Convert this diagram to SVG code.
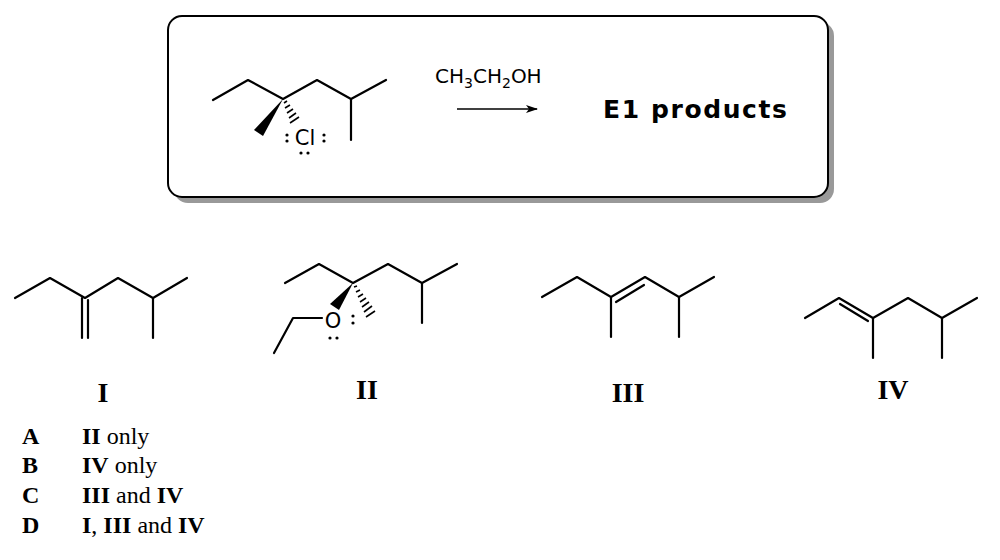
<svg xmlns="http://www.w3.org/2000/svg" width="1000" height="560" viewBox="0 0 1000 560">
<style>
.b{fill:none;stroke:#000;stroke-width:2.2;stroke-linecap:round;stroke-linejoin:round}
.s{font-family:"DejaVu Sans",Verdana,sans-serif;fill:#000}
.r{font-family:"Liberation Serif",Cambria,serif;font-size:24px;fill:#000}
.n{font-family:"Liberation Serif",Cambria,serif;font-size:28px;font-weight:bold;fill:#000}
.dot{fill:#000}
</style>
<defs>
<marker id="ah" markerWidth="12" markerHeight="8" refX="11" refY="4" orient="auto" markerUnits="userSpaceOnUse"><path d="M0,0 L12,4 L0,8 L3,4 Z" fill="#000"/></marker>
</defs>
<rect width="1000" height="560" fill="#fff"/>
<g id="box">
<rect x="174" y="22" width="660" height="181" rx="14" fill="#999"/>
<rect x="168" y="16" width="660" height="181" rx="14" fill="#fff" stroke="#000" stroke-width="2"/>
</g>
<g id="reactant">
<polyline class="b" points="213,100 248,80 283,99 317,80 351,99 386,80"/>
<line class="b" x1="351" y1="99" x2="351" y2="140"/>
<polygon points="283,99 263,136 254,130" fill="#000"/>
<g stroke="#000" stroke-width="1.6">
<line x1="284" y1="103" x2="287" y2="101"/><line x1="285" y1="108" x2="290" y2="105"/><line x1="287" y1="113" x2="293" y2="109"/><line x1="289" y1="118" x2="296" y2="113"/><line x1="290" y1="123" x2="299" y2="117"/>
</g>
<text class="s" x="305" y="145" font-size="21" text-anchor="middle">Cl</text>
<circle class="dot" cx="287" cy="135" r="1.6"/><circle class="dot" cx="287" cy="141" r="1.6"/>
<circle class="dot" cx="324" cy="135" r="1.6"/><circle class="dot" cx="324" cy="141" r="1.6"/>
<circle class="dot" cx="301" cy="153" r="1.6"/><circle class="dot" cx="308" cy="153" r="1.6"/>
</g>
<g id="arrow">
<text class="s" x="435" y="83" font-size="20">CH<tspan font-size="14" dy="5">3</tspan><tspan dy="-5">CH</tspan><tspan font-size="14" dy="5">2</tspan><tspan dy="-5">OH</tspan></text>
<line x1="457" y1="109" x2="537" y2="109" stroke="#000" stroke-width="1.5" marker-end="url(#ah)"/>
<text class="s" x="603" y="118" font-size="25" font-weight="bold" letter-spacing="1.6">E1 products</text>
</g>
<g id="I">
<polyline class="b" points="15,298 50,278 85,298 118,278 153,298 187,278"/>
<line class="b" x1="82" y1="298" x2="82" y2="338"/>
<line class="b" x1="88" y1="300" x2="88" y2="338"/>
<line class="b" x1="153" y1="298" x2="153" y2="338"/>
<text class="n" x="103" y="402" text-anchor="middle">I</text>
</g>
<g id="II">
<polyline class="b" points="285,283 319,264 353,283 388,264 422,283 457,264"/>
<line class="b" x1="422" y1="283" x2="422" y2="323"/>
<polygon points="353,283 339,310 330,304" fill="#000"/>
<g stroke="#000" stroke-width="1.6">
<line x1="354" y1="287" x2="357" y2="286"/><line x1="356" y1="292" x2="360" y2="290"/><line x1="358" y1="297" x2="363" y2="294"/><line x1="360" y1="302" x2="366" y2="298"/><line x1="362" y1="307" x2="369" y2="302"/><line x1="364" y1="312" x2="372" y2="306"/><line x1="366" y1="317" x2="375" y2="311"/>
</g>
<text class="s" x="333" y="328" font-size="21" text-anchor="middle">O</text>
<polyline class="b" points="322,318 293,318 274,353"/>
<circle class="dot" cx="353" cy="316" r="1.6"/><circle class="dot" cx="353" cy="323" r="1.6"/>
<circle class="dot" cx="330" cy="338" r="1.6"/><circle class="dot" cx="337" cy="338" r="1.6"/>
<text class="n" x="367" y="399" text-anchor="middle">II</text>
</g>
<g id="III">
<polyline class="b" points="542,297 577,277 611,297 645,277 679,297 714,277"/>
<line class="b" x1="616" y1="302" x2="644" y2="285"/>
<line class="b" x1="611" y1="297" x2="611" y2="337"/>
<line class="b" x1="679" y1="297" x2="679" y2="337"/>
<text class="n" x="628" y="402" text-anchor="middle">III</text>
</g>
<g id="IV">
<polyline class="b" points="805,318 839,298 873,318 908,298 942,318 977,298"/>
<line class="b" x1="840" y1="304" x2="868" y2="321"/>
<line class="b" x1="873" y1="318" x2="873" y2="358"/>
<line class="b" x1="942" y1="318" x2="942" y2="358"/>
<text class="n" x="893" y="399" text-anchor="middle">IV</text>
</g>
<g id="options" class="r">
<text x="22" y="444" font-weight="bold">A</text>
<text x="82" y="444"><tspan font-weight="bold">II</tspan> only</text>
<text x="22" y="473" font-weight="bold">B</text>
<text x="82" y="473"><tspan font-weight="bold">IV</tspan> only</text>
<text x="22" y="503" font-weight="bold">C</text>
<text x="82" y="503"><tspan font-weight="bold">III</tspan> and <tspan font-weight="bold">IV</tspan></text>
<text x="22" y="533" font-weight="bold">D</text>
<text x="82" y="533"><tspan font-weight="bold">I</tspan>, <tspan font-weight="bold">III</tspan> and <tspan font-weight="bold">IV</tspan></text>
</g>
</svg>
